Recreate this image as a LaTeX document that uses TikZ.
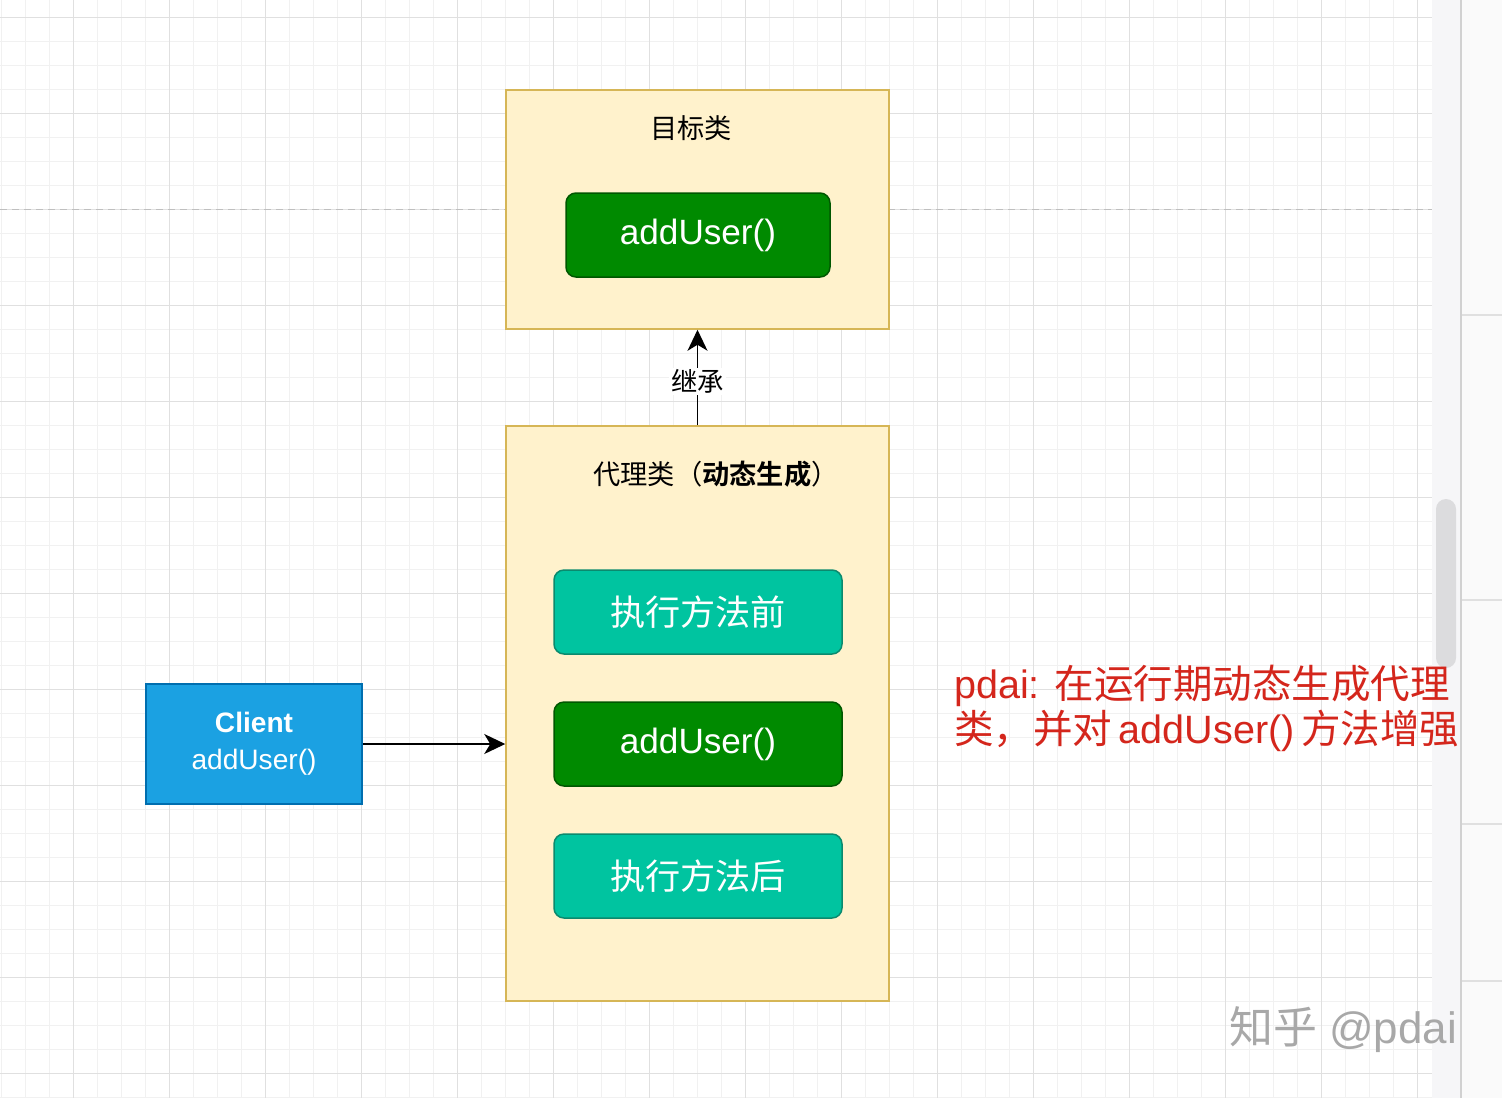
\documentclass[tikz,border=0pt]{standalone}
\usepackage{fontspec}
\setmainfont{Liberation Sans}
\newfontfamily\cjk{Noto Sans CJK SC}[BoldFont={Noto Sans CJK SC Bold}]
\usetikzlibrary{arrows.meta}
\definecolor{classfill}{HTML}{FFF2CC}
\definecolor{classline}{HTML}{D6B656}
\definecolor{greenfill}{HTML}{008A00}
\definecolor{greenline}{HTML}{005700}
\definecolor{tealfill}{HTML}{00C4A0}
\definecolor{tealline}{HTML}{0B8A6E}
\definecolor{clientfill}{HTML}{1BA1E2}
\definecolor{clientline}{HTML}{006EAF}
\definecolor{notered}{HTML}{D4261C}
\definecolor{minorgrid}{HTML}{F1F1F1}
\definecolor{majorgrid}{HTML}{E0E0E0}
\definecolor{sidegray}{HTML}{F6F6F8}
\definecolor{thumbgray}{HTML}{DCDCDE}
\definecolor{markgray}{HTML}{A8A8A8}
\tikzset{
	classbox/.style={draw=classline, fill=classfill, line width=0.3mm, inner sep=0pt},
	methodbox/.style={draw=greenline, fill=greenfill, line width=0.3mm, rounded corners=2mm,
		minimum width=52.8mm, minimum height=16.8mm, text=white, font=\fontsize{20}{24}\selectfont},
	stepbox/.style={draw=tealline, fill=tealfill, line width=0.3mm, rounded corners=2mm,
		minimum width=57.6mm, minimum height=16.8mm, text=white, font=\fontsize{20}{24}\selectfont\cjk},
	link/.style={line width=0.3mm, -{Stealth[length=4.2mm, width=4mm, inset=1.2mm]}}
}
\begin{document}
\begin{tikzpicture}[x=0.2mm, y=-0.2mm]
			\useasboundingbox (0,0) rectangle (1502,1098);
			\fill[white] (0,0) rectangle (1502,1098);
			\foreach \gx in {1,25,...,1430} \draw[minorgrid, line width=0.2mm] (\gx,0) -- (\gx,1098);
			\foreach \gy in {17,41,...,1097} \draw[minorgrid, line width=0.2mm] (0,\gy) -- (1432,\gy);
			\foreach \gx in {73,169,...,1430} \draw[majorgrid, line width=0.2mm] (\gx,0) -- (\gx,1098);
			\foreach \gy in {17,113,...,1097} \draw[majorgrid, line width=0.2mm] (0,\gy) -- (1432,\gy);
			\draw[black!25, line width=0.3mm, dash pattern=on 1.4mm off 1mm] (0,209.5) -- (1432,209.5);
			\fill[sidegray] (1432,0) rectangle (1461,1098);
			\fill[thumbgray, rounded corners=2mm] (1436,499) rectangle (1456,668);
			\fill[white!98!black] (1462,0) rectangle (1502,1098);
			\draw[black!18, line width=0.3mm] (1461,0) -- (1461,1098);
			\foreach \ly in {315,600,824,981} \draw[black!12, line width=0.3mm] (1462,\ly) -- (1502,\ly);

			\node[classbox, minimum width=76.6mm, minimum height=47.8mm] (target) at (697.5,209.5) {};
			\node[font=\fontsize{15.5}{18}\selectfont\cjk] (targettitle) at (691,128) {目标类};
			\node[methodbox] (targetadd) at (698,235) {addUser()};

			\node[classbox, minimum width=76.6mm, minimum height=115mm] (proxy) at (697.5,713.5) {};
			\node[font=\fontsize{15.5}{18}\selectfont\cjk] (proxytitle) at (716,474) {代理类（\textbf{动态生成}）};
			\node[stepbox] (before) at (698,612) {执行方法前};
			\node[methodbox, minimum width=57.6mm] (proxyadd) at (698,744) {addUser()};
			\node[stepbox] (after) at (698,876) {执行方法后};

			\node[draw=clientline, fill=clientfill, line width=0.3mm, minimum width=43.2mm, minimum height=24mm,
				align=center, text=white, font=\fontsize{16}{20}\selectfont] (client) at (254,744) {\textbf{Client}\\[0.3mm]addUser()};

			\draw[link] (client.east) -- (client.east -| proxy.west);
			\draw[link] (proxy.north) -- (target.south)
				node[pos=0.46, fill=white, inner sep=1pt, font=\fontsize{15}{18}\selectfont\cjk] (inherit) {继承};

			\node[anchor=north west, align=left, text=notered, font=\fontsize{22.5}{25.5}\selectfont] (note) at (948,659)
				{pdai: {\cjk 在运行期动态生成代理}\\{\cjk 类，并对}\,addUser()\,{\cjk 方法增强}};
			\node[text=markgray, font=\fontsize{25}{30}\selectfont] (mark) at (1343,1030) {{\cjk 知乎} @pdai};

		\end{tikzpicture}
\end{document}
